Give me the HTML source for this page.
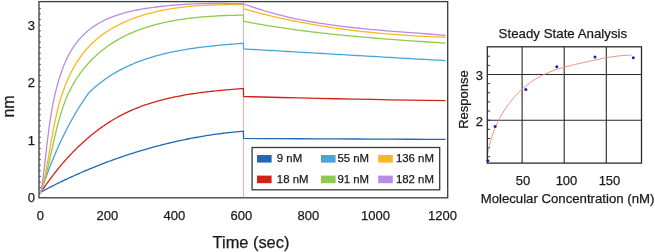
<!DOCTYPE html>
<html><head><meta charset="utf-8"><title>Chart</title>
<style>
html,body{margin:0;padding:0;background:#fff}
svg{display:block}
text{font-family:"Liberation Sans",Arial,Helvetica,sans-serif;fill:#1a1a1a;stroke:#1a1a1a;stroke-width:0.25px}
</style></head><body>
<svg width="655" height="252" viewBox="0 0 655 252">
<rect width="655" height="252" fill="#fff"/>
<line x1="243.5" y1="2" x2="243.5" y2="197" stroke="#f0b0b2" stroke-width="1"/>
<g>
<path d="M41.00,192.00 L42.18,191.37 L43.36,190.74 L44.54,190.12 L45.72,189.50 L46.91,188.88 L48.10,188.27 L49.28,187.66 L50.47,187.05 L51.66,186.44 L52.86,185.84 L54.05,185.24 L55.25,184.64 L56.45,184.04 L57.64,183.45 L58.84,182.86 L60.05,182.28 L61.25,181.69 L62.46,181.11 L63.66,180.54 L64.87,179.96 L66.08,179.39 L67.29,178.82 L68.50,178.25 L69.72,177.69 L70.93,177.13 L72.15,176.57 L73.37,176.02 L74.59,175.47 L75.81,174.92 L77.03,174.38 L78.25,173.83 L79.48,173.29 L80.71,172.76 L81.93,172.22 L83.16,171.69 L84.39,171.17 L85.63,170.64 L86.86,170.12 L88.09,169.60 L89.33,169.09 L90.57,168.57 L91.81,168.06 L93.05,167.56 L94.29,167.06 L95.53,166.56 L96.77,166.06 L98.02,165.56 L99.26,165.07 L100.51,164.59 L101.76,164.10 L103.01,163.62 L104.26,163.14 L105.51,162.67 L106.77,162.19 L108.02,161.72 L109.28,161.26 L110.54,160.80 L111.79,160.34 L113.05,159.88 L114.31,159.43 L115.58,158.98 L116.84,158.53 L118.10,158.09 L119.37,157.64 L120.63,157.21 L121.90,156.77 L123.17,156.34 L124.44,155.91 L125.71,155.49 L126.98,155.07 L128.25,154.65 L129.53,154.23 L130.80,153.82 L132.08,153.41 L133.35,153.01 L134.63,152.61 L135.91,152.21 L137.19,151.81 L138.47,151.42 L139.75,151.03 L141.04,150.64 L142.32,150.26 L143.60,149.88 L144.89,149.51 L146.18,149.13 L147.46,148.77 L148.75,148.40 L150.04,148.04 L151.33,147.68 L152.62,147.32 L153.91,146.97 L155.21,146.62 L156.50,146.27 L157.80,145.93 L159.09,145.59 L160.39,145.26 L161.68,144.93 L162.98,144.60 L164.28,144.27 L165.58,143.95 L166.88,143.63 L168.18,143.31 L169.49,143.00 L170.79,142.69 L172.09,142.39 L173.40,142.09 L174.70,141.79 L176.01,141.50 L177.31,141.20 L178.62,140.92 L179.93,140.63 L181.24,140.35 L182.55,140.07 L183.86,139.80 L185.17,139.53 L186.48,139.26 L187.79,139.00 L189.10,138.74 L190.42,138.48 L191.73,138.23 L193.05,137.98 L194.36,137.74 L195.68,137.50 L197.00,137.26 L198.31,137.02 L199.63,136.79 L200.95,136.56 L202.27,136.34 L203.59,136.12 L204.91,135.90 L206.23,135.69 L207.55,135.48 L208.87,135.27 L210.19,135.07 L211.52,134.87 L212.84,134.67 L214.16,134.48 L215.49,134.30 L216.81,134.11 L218.14,133.93 L219.46,133.75 L220.79,133.58 L222.12,133.41 L223.44,133.24 L224.77,133.08 L226.10,132.92 L227.43,132.77 L228.76,132.62 L230.09,132.47 L231.42,132.33 L232.75,132.19 L234.08,132.05 L235.41,131.92 L236.74,131.79 L238.07,131.66 L239.40,131.54 L240.73,131.42 L242.07,131.31 L243.40,131.20 L243.60,138.46 L261.96,138.56 L280.33,138.66 L298.69,138.76 L317.05,138.85 L335.42,138.94 L353.78,139.02 L372.15,139.10 L390.51,139.18 L408.87,139.25 L427.24,139.32 L445.60,139.39" fill="none" stroke="#2268b4" stroke-width="1.3" stroke-linejoin="round"/>
<path d="M41.00,192.00 L41.84,190.76 L42.68,189.51 L43.53,188.27 L44.38,187.04 L45.25,185.81 L46.11,184.58 L46.99,183.35 L47.87,182.13 L48.76,180.91 L49.65,179.70 L50.55,178.49 L51.45,177.28 L52.36,176.08 L53.28,174.88 L54.21,173.69 L55.14,172.50 L56.07,171.32 L57.02,170.14 L57.97,168.97 L58.92,167.80 L59.89,166.64 L60.85,165.48 L61.83,164.33 L62.81,163.19 L63.80,162.05 L64.79,160.91 L65.79,159.79 L66.80,158.66 L67.81,157.55 L68.83,156.44 L69.86,155.34 L70.89,154.24 L71.93,153.15 L72.97,152.07 L74.02,151.00 L75.08,149.93 L76.14,148.87 L77.21,147.82 L78.29,146.77 L79.37,145.73 L80.46,144.70 L81.56,143.68 L82.66,142.67 L83.77,141.66 L84.88,140.66 L86.00,139.67 L87.13,138.69 L88.27,137.72 L89.41,136.76 L90.55,135.80 L91.71,134.86 L92.86,133.92 L94.03,132.99 L95.20,132.08 L96.38,131.17 L97.57,130.27 L98.76,129.38 L99.96,128.50 L101.16,127.63 L102.37,126.77 L103.59,125.93 L104.81,125.09 L106.04,124.26 L107.28,123.44 L108.52,122.64 L109.77,121.84 L111.03,121.06 L112.29,120.28 L113.56,119.52 L114.83,118.77 L116.11,118.03 L117.40,117.30 L118.70,116.58 L120.00,115.88 L121.30,115.19 L122.62,114.51 L123.94,113.84 L125.26,113.18 L126.60,112.54 L127.94,111.91 L129.28,111.29 L130.63,110.68 L131.99,110.08 L133.35,109.50 L134.72,108.93 L136.10,108.36 L137.48,107.81 L138.86,107.27 L140.25,106.74 L141.65,106.22 L143.05,105.72 L144.45,105.22 L145.86,104.73 L147.28,104.25 L148.70,103.79 L150.12,103.33 L151.55,102.88 L152.98,102.45 L154.41,102.02 L155.85,101.60 L157.30,101.19 L158.74,100.79 L160.19,100.40 L161.65,100.01 L163.10,99.64 L164.56,99.27 L166.03,98.92 L167.49,98.57 L168.96,98.23 L170.43,97.89 L171.91,97.57 L173.39,97.25 L174.86,96.94 L176.35,96.64 L177.83,96.34 L179.31,96.06 L180.80,95.77 L182.29,95.50 L183.78,95.23 L185.27,94.97 L186.77,94.72 L188.26,94.47 L189.76,94.23 L191.26,93.99 L192.75,93.76 L194.25,93.54 L195.75,93.32 L197.25,93.11 L198.75,92.90 L200.25,92.70 L201.76,92.50 L203.26,92.31 L204.76,92.12 L206.26,91.94 L207.76,91.76 L209.26,91.59 L210.76,91.42 L212.26,91.25 L213.76,91.09 L215.26,90.93 L216.75,90.78 L218.25,90.63 L219.74,90.48 L221.24,90.34 L222.73,90.20 L224.22,90.06 L225.71,89.93 L227.20,89.80 L228.68,89.67 L230.16,89.54 L231.64,89.42 L233.12,89.30 L234.60,89.18 L236.07,89.06 L237.54,88.95 L239.01,88.83 L240.48,88.72 L241.94,88.61 L243.40,88.50 L243.60,96.51 L261.96,97.01 L280.33,97.48 L298.69,97.92 L317.05,98.34 L335.42,98.74 L353.78,99.11 L372.15,99.46 L390.51,99.78 L408.87,100.08 L427.24,100.35 L445.60,100.60" fill="none" stroke="#d2231b" stroke-width="1.3" stroke-linejoin="round"/>
<path d="M41.00,192.00 L41.58,190.23 L42.17,188.46 L42.76,186.70 L43.36,184.93 L43.97,183.16 L44.58,181.40 L45.20,179.64 L45.83,177.88 L46.46,176.12 L47.10,174.36 L47.75,172.60 L48.40,170.85 L49.06,169.09 L49.73,167.34 L50.41,165.59 L51.09,163.85 L51.78,162.10 L52.48,160.36 L53.19,158.63 L53.90,156.89 L54.63,155.16 L55.36,153.43 L56.10,151.70 L56.84,149.98 L57.60,148.26 L58.36,146.55 L59.13,144.84 L59.91,143.13 L60.70,141.43 L61.50,139.73 L62.30,138.04 L63.12,136.35 L63.94,134.66 L64.78,132.98 L65.62,131.30 L66.47,129.63 L67.33,127.97 L68.20,126.31 L69.08,124.65 L69.97,123.01 L70.87,121.36 L71.78,119.72 L72.70,118.09 L73.62,116.47 L74.56,114.85 L75.51,113.23 L76.47,111.63 L77.44,110.03 L78.42,108.43 L79.41,106.85 L80.41,105.27 L81.42,103.70 L82.44,102.13 L83.47,100.57 L84.52,99.02 L85.57,97.48 L86.63,95.95 L87.71,94.42 L88.80,92.90 L88.80,92.90 L89.82,91.90 L90.86,90.91 L91.90,89.94 L92.94,88.98 L94.00,88.04 L95.06,87.11 L96.14,86.19 L97.22,85.29 L98.30,84.40 L99.40,83.52 L100.50,82.66 L101.61,81.81 L102.73,80.98 L103.85,80.15 L104.98,79.34 L106.12,78.55 L107.26,77.76 L108.42,76.99 L109.57,76.23 L110.74,75.49 L111.91,74.75 L113.09,74.03 L114.27,73.32 L115.46,72.62 L116.66,71.93 L117.86,71.26 L119.07,70.60 L120.28,69.94 L121.50,69.30 L122.73,68.67 L123.96,68.06 L125.20,67.45 L126.44,66.85 L127.69,66.27 L128.94,65.69 L130.20,65.13 L131.46,64.57 L132.73,64.03 L134.00,63.49 L135.28,62.97 L136.56,62.46 L137.85,61.95 L139.14,61.46 L140.44,60.97 L141.74,60.50 L143.04,60.03 L144.35,59.57 L145.66,59.13 L146.98,58.69 L148.30,58.26 L149.62,57.84 L150.95,57.42 L152.28,57.02 L153.61,56.62 L154.95,56.24 L156.29,55.86 L157.64,55.49 L158.99,55.12 L160.34,54.77 L161.69,54.42 L163.05,54.08 L164.41,53.75 L165.77,53.42 L167.13,53.10 L168.50,52.79 L169.87,52.49 L171.24,52.19 L172.61,51.90 L173.99,51.61 L175.36,51.34 L176.74,51.07 L178.13,50.80 L179.51,50.54 L180.89,50.29 L182.28,50.04 L183.67,49.80 L185.06,49.57 L186.45,49.34 L187.84,49.12 L189.23,48.90 L190.62,48.68 L192.02,48.48 L193.41,48.27 L194.81,48.07 L196.21,47.88 L197.60,47.69 L199.00,47.51 L200.40,47.33 L201.80,47.15 L203.20,46.98 L204.59,46.81 L205.99,46.65 L207.39,46.49 L208.79,46.33 L210.19,46.18 L211.58,46.03 L212.98,45.89 L214.38,45.74 L215.77,45.60 L217.17,45.47 L218.56,45.34 L219.95,45.21 L221.34,45.08 L222.74,44.95 L224.13,44.83 L225.51,44.71 L226.90,44.59 L228.29,44.47 L229.67,44.36 L231.05,44.25 L232.43,44.14 L233.81,44.03 L235.19,43.92 L236.56,43.81 L237.93,43.71 L239.30,43.61 L240.67,43.50 L242.04,43.40 L243.40,43.30 L243.60,48.90 L247.02,49.10 L250.45,49.30 L253.87,49.50 L257.29,49.70 L260.72,49.90 L264.14,50.10 L267.57,50.30 L270.99,50.50 L274.41,50.70 L277.84,50.90 L281.26,51.10 L284.68,51.30 L288.11,51.50 L291.53,51.70 L294.95,51.90 L298.38,52.11 L301.80,52.31 L305.22,52.51 L308.65,52.71 L312.07,52.91 L315.50,53.11 L318.92,53.31 L322.34,53.52 L325.77,53.72 L329.19,53.92 L332.61,54.12 L336.04,54.32 L339.46,54.52 L342.88,54.72 L346.31,54.92 L349.73,55.12 L353.15,55.32 L356.58,55.52 L360.00,55.72 L363.43,55.92 L366.85,56.12 L370.27,56.32 L373.70,56.52 L377.12,56.72 L380.54,56.92 L383.97,57.12 L387.39,57.31 L390.82,57.51 L394.24,57.71 L397.66,57.90 L401.09,58.10 L404.51,58.30 L407.93,58.49 L411.36,58.68 L414.78,58.88 L418.21,59.07 L421.63,59.27 L425.05,59.46 L428.48,59.65 L431.90,59.84 L435.33,60.03 L438.75,60.22 L442.18,60.41 L445.60,60.60" fill="none" stroke="#4aa3d9" stroke-width="1.3" stroke-linejoin="round"/>
<path d="M41.00,192.00 L41.60,190.20 L42.18,188.38 L42.74,186.57 L43.29,184.74 L43.83,182.92 L44.35,181.08 L44.86,179.24 L45.36,177.40 L45.85,175.55 L46.33,173.69 L46.80,171.83 L47.26,169.97 L47.72,168.10 L48.16,166.23 L48.60,164.36 L49.04,162.48 L49.47,160.61 L49.89,158.72 L50.31,156.84 L50.73,154.95 L51.15,153.07 L51.57,151.18 L51.99,149.29 L52.41,147.39 L52.82,145.50 L53.25,143.61 L53.67,141.72 L54.10,139.82 L54.53,137.93 L54.97,136.04 L55.41,134.15 L55.86,132.26 L56.31,130.37 L56.78,128.48 L57.25,126.60 L57.74,124.71 L58.23,122.83 L58.74,120.95 L59.25,119.08 L59.78,117.21 L60.33,115.34 L60.89,113.49 L61.47,111.63 L62.06,109.79 L62.67,107.95 L63.30,106.12 L63.95,104.30 L64.62,102.48 L65.31,100.68 L66.03,98.89 L66.77,97.11 L67.53,95.35 L68.32,93.59 L69.13,91.85 L69.98,90.13 L70.85,88.42 L71.75,86.72 L72.67,85.04 L73.63,83.38 L74.61,81.73 L75.62,80.10 L76.65,78.49 L77.71,76.89 L78.80,75.31 L79.91,73.75 L81.04,72.21 L82.21,70.69 L83.39,69.18 L84.60,67.70 L85.83,66.23 L87.08,64.79 L88.36,63.36 L89.66,61.96 L90.97,60.57 L92.32,59.21 L93.68,57.87 L95.06,56.55 L96.46,55.26 L97.88,53.98 L99.32,52.73 L100.78,51.51 L102.26,50.31 L103.76,49.13 L105.27,47.97 L106.80,46.84 L108.35,45.74 L109.92,44.66 L111.50,43.61 L113.10,42.58 L114.71,41.58 L116.34,40.60 L117.98,39.65 L119.63,38.72 L121.30,37.81 L122.99,36.93 L124.69,36.07 L126.40,35.24 L128.12,34.42 L129.85,33.63 L131.60,32.87 L133.36,32.12 L135.13,31.39 L136.91,30.69 L138.70,30.01 L140.50,29.34 L142.32,28.70 L144.14,28.08 L145.97,27.47 L147.81,26.89 L149.66,26.32 L151.51,25.78 L153.38,25.25 L155.25,24.74 L157.12,24.24 L159.01,23.77 L160.90,23.31 L162.80,22.86 L164.70,22.44 L166.61,22.03 L168.52,21.63 L170.44,21.25 L172.37,20.89 L174.29,20.54 L176.22,20.20 L178.16,19.88 L180.09,19.58 L182.03,19.28 L183.97,19.00 L185.92,18.73 L187.86,18.48 L189.81,18.23 L191.76,18.00 L193.70,17.78 L195.65,17.58 L197.60,17.38 L199.55,17.19 L201.49,17.01 L203.44,16.85 L205.38,16.69 L207.32,16.54 L209.26,16.40 L211.20,16.28 L213.13,16.15 L215.07,16.04 L216.99,15.94 L218.92,15.84 L220.83,15.75 L222.75,15.66 L224.66,15.58 L226.56,15.51 L228.46,15.45 L230.35,15.39 L232.24,15.33 L234.12,15.28 L235.99,15.24 L237.85,15.20 L239.71,15.16 L241.56,15.13 L243.40,15.10 L243.60,21.30 L246.99,21.95 L250.38,22.58 L253.77,23.20 L257.16,23.81 L260.56,24.40 L263.95,24.98 L267.35,25.55 L270.75,26.10 L274.15,26.64 L277.56,27.17 L280.97,27.69 L284.37,28.19 L287.78,28.69 L291.19,29.17 L294.61,29.64 L298.02,30.10 L301.43,30.55 L304.85,30.99 L308.27,31.42 L311.69,31.84 L315.11,32.25 L318.53,32.65 L321.96,33.05 L325.38,33.43 L328.80,33.80 L332.23,34.17 L335.66,34.53 L339.09,34.88 L342.52,35.22 L345.95,35.55 L349.38,35.88 L352.81,36.20 L356.24,36.51 L359.67,36.82 L363.11,37.12 L366.54,37.42 L369.98,37.71 L373.41,37.99 L376.85,38.27 L380.29,38.54 L383.72,38.81 L387.16,39.08 L390.60,39.34 L394.03,39.59 L397.47,39.84 L400.91,40.09 L404.35,40.34 L407.79,40.58 L411.23,40.82 L414.66,41.05 L418.10,41.29 L421.54,41.52 L424.98,41.75 L428.42,41.98 L431.85,42.20 L435.29,42.43 L438.73,42.65 L442.16,42.88 L445.60,43.10" fill="none" stroke="#8dcc4a" stroke-width="1.3" stroke-linejoin="round"/>
<path d="M41.00,192.00 L41.52,190.11 L42.02,188.21 L42.50,186.30 L42.98,184.39 L43.43,182.47 L43.88,180.54 L44.31,178.60 L44.74,176.66 L45.15,174.71 L45.55,172.76 L45.95,170.79 L46.33,168.83 L46.71,166.86 L47.08,164.88 L47.45,162.90 L47.81,160.92 L48.17,158.93 L48.52,156.94 L48.87,154.95 L49.21,152.95 L49.56,150.95 L49.91,148.95 L50.25,146.95 L50.60,144.95 L50.95,142.94 L51.30,140.94 L51.65,138.93 L52.01,136.93 L52.37,134.92 L52.73,132.92 L53.11,130.91 L53.49,128.91 L53.87,126.91 L54.27,124.91 L54.68,122.92 L55.09,120.92 L55.52,118.93 L55.95,116.94 L56.40,114.96 L56.86,112.98 L57.34,111.01 L57.83,109.04 L58.33,107.07 L58.85,105.11 L59.39,103.16 L59.94,101.21 L60.52,99.27 L61.11,97.33 L61.72,95.40 L62.35,93.48 L63.00,91.57 L63.68,89.66 L64.37,87.76 L65.09,85.88 L65.83,84.00 L66.60,82.13 L67.39,80.27 L68.21,78.43 L69.04,76.60 L69.91,74.78 L70.80,72.98 L71.71,71.19 L72.65,69.42 L73.61,67.67 L74.60,65.94 L75.62,64.22 L76.66,62.53 L77.74,60.85 L78.83,59.20 L79.96,57.57 L81.11,55.96 L82.29,54.38 L83.50,52.82 L84.74,51.28 L86.01,49.77 L87.31,48.29 L88.63,46.84 L89.99,45.42 L91.38,44.02 L92.80,42.66 L94.24,41.32 L95.72,40.02 L97.22,38.74 L98.75,37.50 L100.31,36.28 L101.89,35.09 L103.50,33.93 L105.13,32.80 L106.78,31.70 L108.46,30.62 L110.16,29.57 L111.88,28.55 L113.62,27.55 L115.38,26.58 L117.15,25.64 L118.95,24.72 L120.76,23.83 L122.59,22.96 L124.43,22.12 L126.29,21.30 L128.17,20.51 L130.05,19.74 L131.95,19.00 L133.86,18.28 L135.78,17.58 L137.71,16.91 L139.65,16.26 L141.60,15.63 L143.55,15.02 L145.52,14.43 L147.49,13.87 L149.46,13.33 L151.44,12.81 L153.42,12.31 L155.41,11.83 L157.39,11.37 L159.38,10.93 L161.37,10.51 L163.36,10.11 L165.36,9.73 L167.35,9.37 L169.34,9.02 L171.34,8.69 L173.34,8.38 L175.33,8.09 L177.33,7.81 L179.33,7.55 L181.33,7.30 L183.33,7.07 L185.33,6.85 L187.33,6.64 L189.33,6.45 L191.33,6.27 L193.33,6.10 L195.33,5.95 L197.34,5.80 L199.34,5.67 L201.34,5.55 L203.35,5.43 L205.35,5.33 L207.36,5.24 L209.36,5.15 L211.36,5.08 L213.37,5.01 L215.37,4.95 L217.38,4.89 L219.38,4.84 L221.38,4.80 L223.39,4.76 L225.39,4.73 L227.39,4.71 L229.39,4.68 L231.40,4.66 L233.40,4.65 L235.40,4.63 L237.40,4.62 L239.40,4.61 L241.40,4.61 L243.40,4.60 L243.60,8.80 L246.94,9.74 L250.28,10.66 L253.63,11.56 L256.99,12.44 L260.34,13.31 L263.70,14.16 L267.07,14.98 L270.44,15.80 L273.81,16.59 L277.19,17.36 L280.57,18.12 L283.95,18.86 L287.34,19.59 L290.73,20.30 L294.13,20.99 L297.53,21.66 L300.93,22.32 L304.33,22.96 L307.74,23.58 L311.15,24.19 L314.57,24.79 L317.98,25.37 L321.40,25.93 L324.82,26.48 L328.25,27.01 L331.68,27.52 L335.10,28.03 L338.54,28.51 L341.97,28.99 L345.41,29.45 L348.84,29.89 L352.28,30.32 L355.73,30.74 L359.17,31.14 L362.62,31.53 L366.06,31.90 L369.51,32.27 L372.96,32.62 L376.41,32.95 L379.86,33.28 L383.32,33.59 L386.77,33.88 L390.23,34.17 L393.69,34.44 L397.15,34.71 L400.60,34.96 L404.06,35.19 L407.52,35.42 L410.98,35.64 L414.44,35.84 L417.91,36.03 L421.37,36.22 L424.83,36.39 L428.29,36.55 L431.75,36.70 L435.22,36.84 L438.68,36.97 L442.14,37.09 L445.60,37.20" fill="none" stroke="#fbb71f" stroke-width="1.3" stroke-linejoin="round"/>
<path d="M41.00,192.00 L41.32,189.96 L41.64,187.92 L41.95,185.88 L42.24,183.83 L42.53,181.78 L42.81,179.72 L43.09,177.66 L43.36,175.60 L43.62,173.54 L43.88,171.47 L44.13,169.40 L44.38,167.33 L44.62,165.26 L44.87,163.18 L45.11,161.11 L45.34,159.03 L45.58,156.95 L45.81,154.87 L46.05,152.79 L46.29,150.70 L46.52,148.62 L46.76,146.54 L47.00,144.45 L47.25,142.37 L47.49,140.28 L47.74,138.20 L48.00,136.11 L48.26,134.03 L48.53,131.94 L48.80,129.86 L49.08,127.78 L49.36,125.70 L49.66,123.62 L49.96,121.54 L50.27,119.46 L50.59,117.39 L50.92,115.31 L51.26,113.24 L51.62,111.17 L51.98,109.11 L52.36,107.04 L52.75,104.98 L53.15,102.92 L53.57,100.87 L54.01,98.82 L54.45,96.77 L54.92,94.72 L55.40,92.68 L55.90,90.64 L56.41,88.61 L56.95,86.58 L57.50,84.56 L58.07,82.53 L58.66,80.52 L59.27,78.51 L59.91,76.50 L60.56,74.50 L61.24,72.51 L61.94,70.52 L62.67,68.54 L63.42,66.58 L64.20,64.63 L65.02,62.69 L65.86,60.77 L66.74,58.87 L67.65,56.99 L68.60,55.14 L69.59,53.31 L70.62,51.50 L71.69,49.72 L72.80,47.97 L73.95,46.26 L75.14,44.57 L76.37,42.92 L77.64,41.31 L78.96,39.73 L80.31,38.18 L81.69,36.68 L83.12,35.22 L84.58,33.79 L86.08,32.41 L87.62,31.08 L89.19,29.79 L90.80,28.54 L92.44,27.34 L94.11,26.19 L95.82,25.08 L97.55,24.01 L99.32,22.98 L101.11,22.00 L102.93,21.05 L104.78,20.14 L106.65,19.27 L108.54,18.43 L110.46,17.63 L112.40,16.87 L114.36,16.13 L116.33,15.44 L118.33,14.77 L120.34,14.13 L122.36,13.52 L124.40,12.94 L126.46,12.39 L128.52,11.87 L130.60,11.37 L132.69,10.89 L134.78,10.44 L136.89,10.01 L138.99,9.60 L141.11,9.21 L143.23,8.85 L145.35,8.50 L147.47,8.17 L149.59,7.85 L151.71,7.55 L153.83,7.27 L155.95,7.00 L158.06,6.74 L160.17,6.49 L162.28,6.26 L164.37,6.03 L166.47,5.82 L168.56,5.62 L170.64,5.43 L172.72,5.25 L174.80,5.07 L176.88,4.91 L178.95,4.76 L181.02,4.62 L183.09,4.49 L185.15,4.36 L187.22,4.25 L189.28,4.14 L191.34,4.05 L193.40,3.96 L195.46,3.88 L197.52,3.80 L199.58,3.74 L201.64,3.68 L203.71,3.63 L205.77,3.59 L207.83,3.55 L209.90,3.52 L211.97,3.50 L214.04,3.48 L216.11,3.47 L218.18,3.47 L220.26,3.47 L222.34,3.47 L224.43,3.49 L226.51,3.50 L228.61,3.53 L230.70,3.55 L232.81,3.58 L234.91,3.62 L237.03,3.66 L239.15,3.70 L241.27,3.75 L243.40,3.80 L243.60,3.80 L246.89,5.01 L250.18,6.18 L253.49,7.32 L256.80,8.42 L260.12,9.48 L263.45,10.51 L266.78,11.50 L270.12,12.46 L273.47,13.39 L276.83,14.28 L280.19,15.15 L283.56,15.98 L286.93,16.79 L290.31,17.56 L293.70,18.31 L297.09,19.03 L300.49,19.73 L303.89,20.40 L307.30,21.04 L310.71,21.66 L314.13,22.26 L317.55,22.83 L320.98,23.39 L324.41,23.92 L327.84,24.43 L331.28,24.92 L334.72,25.40 L338.17,25.85 L341.61,26.29 L345.07,26.71 L348.52,27.12 L351.98,27.51 L355.43,27.89 L358.90,28.26 L362.36,28.61 L365.82,28.95 L369.29,29.28 L372.76,29.60 L376.23,29.91 L379.70,30.22 L383.17,30.51 L386.64,30.80 L390.12,31.08 L393.59,31.36 L397.06,31.63 L400.54,31.90 L404.01,32.16 L407.48,32.43 L410.95,32.69 L414.42,32.95 L417.89,33.21 L421.36,33.47 L424.83,33.74 L428.30,34.00 L431.76,34.27 L435.23,34.55 L438.69,34.83 L442.14,35.11 L445.60,35.40" fill="none" stroke="#b88ce0" stroke-width="1.3" stroke-linejoin="round"/>
</g>
<path d="M39,8.40h1.9 M39,14.00h1.9 M39,19.60h1.9 M39,25.20h1.9 M39,30.80h1.9 M39,36.40h1.9 M39,42.00h1.9 M39,47.60h1.9 M39,53.20h1.9 M39,58.80h1.9 M39,64.40h1.9 M39,70.00h1.9 M39,75.60h1.9 M39,81.20h1.9 M39,86.80h1.9 M39,92.40h1.9 M39,98.00h1.9 M39,103.60h1.9 M39,109.20h1.9 M39,114.80h1.9 M39,120.40h1.9 M39,126.00h1.9 M39,131.60h1.9 M39,137.20h1.9 M39,142.80h1.9 M39,148.40h1.9 M39,154.00h1.9 M39,159.60h1.9 M39,165.20h1.9 M39,170.80h1.9 M39,176.40h1.9 M39,182.00h1.9 M39,187.60h1.9 M39,193.20h1.9" stroke="#444" stroke-width="0.9" fill="none"/>
<rect x="39" y="1.6" width="408.7" height="196.2" fill="none" stroke="#3a3a3a" stroke-width="1.3"/>
<g font-size="13" text-anchor="middle"><text x="40.4" y="220.3">0</text><text x="107.4" y="220.3">200</text><text x="174.4" y="220.3">400</text><text x="241.4" y="220.3">600</text><text x="308.4" y="220.3">800</text><text x="375.4" y="220.3">1000</text><text x="442.4" y="220.3">1200</text></g>
<g font-size="13" text-anchor="end"><text x="35" y="202.4">0</text><text x="35" y="144.9">1</text><text x="35" y="87.4">2</text><text x="35" y="29.9">3</text></g>
<text x="251" y="247.8" font-size="16.4" text-anchor="middle">Time (sec)</text>
<text transform="translate(13.8,106.5) rotate(-90)" font-size="16" text-anchor="middle">nm</text>
<rect x="252.1" y="147.5" width="187.6" height="42.3" fill="#fff" stroke="#3a3a3a" stroke-width="1.3"/>
<g font-size="11.4">
<rect x="257" y="155.0" width="14.6" height="7.6" fill="#2268b4"/><text x="276.8" y="162.0">9 nM</text>
<rect x="321" y="155.0" width="14.6" height="7.6" fill="#4aa3d9"/><text x="337.4" y="162.0">55 nM</text>
<rect x="378.2" y="155.0" width="14.6" height="7.6" fill="#fbb71f"/><text x="395.9" y="162.0">136 nM</text>
<rect x="257" y="175.6" width="14.6" height="7.6" fill="#d2231b"/><text x="276.8" y="183.1">18 nM</text>
<rect x="321" y="175.6" width="14.6" height="7.6" fill="#8dcc4a"/><text x="337.4" y="183.1">91 nM</text>
<rect x="378.2" y="175.6" width="14.6" height="7.6" fill="#b88ce0"/><text x="395.9" y="183.1">182 nM</text>
</g>
<!-- inset -->
<text x="562.9" y="37.9" font-size="13.3" text-anchor="middle">Steady State Analysis</text>
<path d="M522.1,46.8V163.1M564.2,46.8V163.1M606.3,46.8V163.1M487.3,74.5H641.5M487.3,120.2H641.5" stroke="#2a2a2a" stroke-width="1.1" fill="none"/>
<path d="M487.3,156.76h2.8 M487.3,147.62h2.8 M487.3,138.48h2.8 M487.3,129.34h2.8 M487.3,120.20h2.8 M487.3,111.06h2.8 M487.3,101.92h2.8 M487.3,92.78h2.8 M487.3,83.64h2.8 M487.3,74.50h2.8 M487.3,65.36h2.8 M487.3,56.22h2.8" stroke="#333" stroke-width="1" fill="none"/>
<path d="M487.30,156.00 L487.60,154.06 L487.94,152.12 L488.31,150.18 L488.71,148.26 L489.14,146.34 L489.61,144.42 L490.10,142.52 L490.63,140.62 L491.20,138.74 L491.79,136.86 L492.41,135.00 L493.07,133.14 L493.75,131.30 L494.47,129.47 L495.21,127.66 L495.99,125.85 L496.80,124.07 L497.63,122.29 L498.50,120.54 L499.39,118.80 L500.32,117.07 L501.27,115.37 L502.25,113.68 L503.26,112.01 L504.29,110.36 L505.36,108.73 L506.45,107.12 L507.57,105.53 L508.72,103.96 L509.89,102.42 L511.10,100.90 L512.32,99.40 L513.58,97.93 L514.86,96.48 L516.17,95.06 L517.50,93.67 L518.86,92.30 L520.24,90.95 L521.65,89.64 L523.08,88.36 L524.54,87.10 L526.02,85.87 L527.53,84.68 L529.06,83.51 L530.61,82.38 L532.19,81.28 L533.79,80.21 L535.41,79.18 L537.06,78.18 L538.73,77.22 L540.42,76.29 L542.14,75.40 L543.88,74.54 L545.63,73.72 L547.41,72.94 L549.21,72.19 L551.03,71.47 L552.86,70.78 L554.71,70.13 L556.58,69.50 L558.45,68.89 L560.34,68.31 L562.24,67.75 L564.15,67.21 L566.07,66.69 L567.99,66.19 L569.92,65.70 L571.85,65.23 L573.79,64.77 L575.73,64.32 L577.67,63.87 L579.60,63.44 L581.54,63.00 L583.47,62.58 L585.40,62.15 L587.33,61.72 L589.24,61.30 L591.16,60.87 L593.07,60.46 L594.98,60.04 L596.88,59.64 L598.78,59.24 L600.69,58.85 L602.59,58.48 L604.49,58.12 L606.39,57.77 L608.30,57.43 L610.21,57.11 L612.12,56.81 L614.03,56.53 L615.94,56.27 L617.87,56.04 L619.79,55.82 L621.73,55.63 L623.66,55.47 L625.61,55.33 L627.57,55.22 L629.53,55.15 L631.50,55.10" fill="none" stroke="#ee8f86" stroke-width="1"/>
<g fill="#1c1cb4"><circle cx="487.9" cy="160.8" r="1.5"/><circle cx="495.1" cy="126.4" r="1.5"/><circle cx="525.8" cy="89.4" r="1.5"/><circle cx="556.8" cy="66.7" r="1.5"/><circle cx="595" cy="56.9" r="1.5"/><circle cx="633.3" cy="57.7" r="1.5"/></g>
<rect x="487.3" y="46.8" width="154.2" height="116.3" fill="none" stroke="#2a2a2a" stroke-width="1.3"/>
<g font-size="13" text-anchor="end"><text x="483" y="80.4">3</text><text x="483" y="125.5">2</text></g>
<g font-size="13" text-anchor="middle"><text x="522.9" y="185.3">50</text><text x="566.5" y="185.3">100</text><text x="609.5" y="185.3">150</text></g>
<text x="567.5" y="202.6" font-size="13.2" text-anchor="middle">Molecular Concentration (nM)</text>
<text transform="translate(467.6,99.6) rotate(-90)" font-size="13" text-anchor="middle">Response</text>
</svg>
</body></html>
